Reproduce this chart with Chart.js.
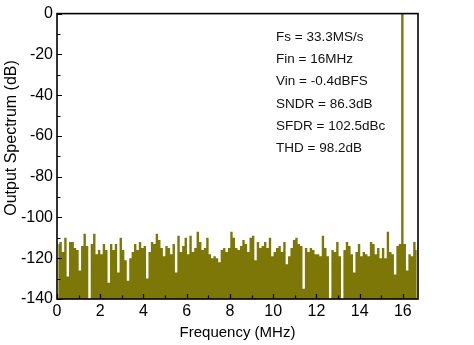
<!DOCTYPE html>
<html>
<head>
<meta charset="utf-8">
<script src="https://cdn.jsdelivr.net/npm/chart.js@4.4.1/dist/chart.umd.min.js"></script>
<style>
  html, body { margin: 0; padding: 0; background: #fff; }
  #wrap { width: 474px; height: 345px; }
</style>
</head>
<body>
<div id="wrap"><canvas id="fftCanvas" width="474" height="345"></canvas></div>
<script>
// ADC output spectrum, 16 MHz input at 33.3 MS/s
const floorDb = -140;
const freqMax = 16.7;

// one value per FFT bin, 0 .. fs/2
const spectrumDb = [
  -113, -112, -117, -110, -129, -112, -112, -115, -116,
  -126, -114, -108, -114, -140, -113, -108, -118, -116,
  -118, -113, -116, -132, -113, -116, -113, -127, -110,
  -116, -121, -131, -120, -117, -113, -116, -112, -115,
  -114, -130, -117, -112, -113, -108, -111, -115, -119,
  -114, -115, -118, -113, -127, -109, -117, -114, -110,
  -118, -109, -117, -115, -107, -112, -116, -115, -110,
  -118, -120, -119, -120, -122, -116, -115, -117, -115,
  -107, -110, -115, -116, -114, -111, -113, -117, -110,
  -109, -121, -112, -115, -114, -112, -115, -110, -119,
  -117, -115, -114, -117, -112, -123, -119, -115, -111,
  -110, -113, -114, -135, -115, -117, -115, -116, -118,
  -118, -119, -109, -115, -119, -140, -116, -117, -112,
  -119, -140, -116, -112, -114, -118, -127, -117, -113,
  -119, -117, -118, -119, -112, -113, -118, -115, -120,
  -115, -120, -107, -117, -118, -128, -114, -113, 0,
  -113, -126, -118, -119, -112, -116
];

const specLines = [
  'Fs = 33.3MS/s',
  'Fin = 16MHz',
  'Vin = -0.4dBFS',
  'SNDR = 86.3dB',
  'SFDR = 102.5dBc',
  'THD = 98.2dB'
];

const olive = 'rgb(124,119,6)';
const fontFamily = '"Liberation Sans", Arial, sans-serif';
const binWidth = freqMax / spectrumDb.length;

// frame, inward ticks, y title and the parameter list
const decorations = {
  id: 'decorations',
  afterDatasetsDraw(chart) {
    const ctx = chart.ctx;
    const area = chart.chartArea;
    const xs = chart.scales.x;
    const ys = chart.scales.y;
    ctx.save();
    ctx.strokeStyle = '#000';
    ctx.lineWidth = 1.2;
    ctx.beginPath();
    for (let f = 0; f <= 16; f++) {
      const px = Math.round(xs.getPixelForValue(f)) + 0.5;
      const len = f % 2 === 0 ? 5 : 3.5;
      ctx.moveTo(px, area.bottom);
      ctx.lineTo(px, area.bottom - len);
    }
    for (let d = floorDb; d <= 0; d += 10) {
      const py = Math.round(ys.getPixelForValue(d)) + 0.5;
      const len = d % 20 === 0 ? 5 : 3.5;
      ctx.moveTo(area.left, py);
      ctx.lineTo(area.left + len, py);
    }
    ctx.stroke();

    ctx.lineWidth = 1.6;
    ctx.strokeRect(area.left, area.top, area.right - area.left, area.bottom - area.top);

    ctx.fillStyle = '#000';
    ctx.textBaseline = 'middle';
    ctx.textAlign = 'center';
    ctx.font = '16px ' + fontFamily;
    ctx.save();
    ctx.translate(12, 138);
    ctx.rotate(-Math.PI / 2);
    ctx.fillText('Output Spectrum (dB)', 0, 0);
    ctx.restore();

    ctx.fillStyle = '#111';
    ctx.font = '13.5px ' + fontFamily;
    ctx.textAlign = 'left';
    specLines.forEach((t, i) => {
      ctx.fillText(t, 276, 37 + i * 22.3);
    });
    ctx.restore();
  }
};

new Chart(document.getElementById('fftCanvas'), {
  type: 'line',
  data: {
    datasets: [{
      data: spectrumDb.map((v, i) => ({ x: (i + 0.5) * binWidth, y: v })),
      backgroundColor: olive,
      borderColor: olive,
      borderWidth: 0,
      pointRadius: 0,
      stepped: 'middle',
      fill: 'start'
    }]
  },
  options: {
    responsive: false,
    animation: false,
    layout: { padding: { top: 9, right: 56, left: 0, bottom: 0 } },
    plugins: {
      legend: { display: false },
      tooltip: { enabled: false }
    },
    scales: {
      x: {
        type: 'linear',
        min: 0,
        max: freqMax,
        grid: { display: false, drawTicks: false },
        border: { display: false },
        ticks: {
          stepSize: 2,
          includeBounds: false,
          padding: 3,
          color: '#000',
          font: { family: fontFamily, size: 16 }
        },
        title: {
          display: true,
          text: 'Frequency (MHz)',
          color: '#000',
          font: { family: fontFamily, size: 15 },
          padding: { top: 0, bottom: 3 }
        },
        afterFit: s => { s.height = 46; }
      },
      y: {
        min: floorDb,
        max: 0,
        grid: { display: false, drawTicks: false },
        border: { display: false },
        ticks: {
          stepSize: 20,
          padding: 4,
          color: '#000',
          font: { family: fontFamily, size: 16 }
        },
        afterFit: s => { s.width = 57; }
      }
    }
  },
  plugins: [decorations]
});
</script>
</body>
</html>
